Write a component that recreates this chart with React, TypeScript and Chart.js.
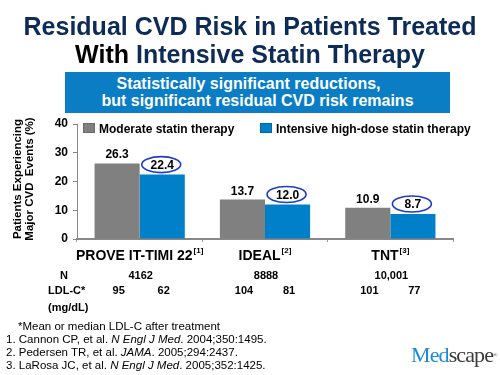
import React, { useEffect, useRef } from "react";
import { Chart, registerables } from "chart.js";

Chart.register(...registerables);

const categories = ["PROVE IT-TIMI 22", "IDEAL", "TNT"];
const refs = ["[1]", "[2]", "[3]"];
const moderate = [26.3, 13.7, 10.9];
const intensive = [22.4, 12.0, 8.7];
const seriesNames = ["Moderate statin therapy", "Intensive high-dose statin therapy"];
const nValues = ["4162", "8888", "10,001"];
const ldlModerate = ["95", "104", "101"];
const ldlIntensive = ["62", "81", "77"];
const yTicks = [0, 10, 20, 30, 40];

const GRAY = "#808080";
const BLUE = "#0080C8";
const FONT = 'Arial, "Liberation Sans", sans-serif';

const overlayPlugin = {
  id: "overlay",
  afterDraw(chart: any) {
    const ctx = chart.ctx as CanvasRenderingContext2D;
    const x = chart.scales.x;
    ctx.save();
    ctx.fillStyle = "#000";
    // data labels
    chart.data.datasets.forEach((ds: any, di: number) => {
      const meta = chart.getDatasetMeta(di);
      meta.data.forEach((bar: any, i: number) => {
        const v = ds.data[i] as number;
        const txt = v.toFixed(1);
        ctx.font = `bold 12px ${FONT}`;
        ctx.textAlign = "center";
        ctx.textBaseline = "alphabetic";
        const ty = bar.y - (di === 1 ? 6 : 5);
        ctx.fillStyle = "#000";
        ctx.fillText(txt, bar.x, ty);
        if (di === 1) {
          ctx.beginPath();
          ctx.ellipse(bar.x - 1, ty - 4, 19.5, 8, 0, 0, Math.PI * 2);
          ctx.strokeStyle = "#1E3DC8";
          ctx.lineWidth = 1.6;
          ctx.stroke();
        }
      });
    });
    // legend
    const legendItems = [
      { color: GRAY, border: "#666", x: 83, text: seriesNames[0] },
      { color: BLUE, border: "#0060A0", x: 260, text: seriesNames[1] },
    ];
    legendItems.forEach((it) => {
      ctx.fillStyle = it.color;
      ctx.fillRect(it.x, 123, 12, 10);
      ctx.strokeStyle = it.border;
      ctx.lineWidth = 0.8;
      ctx.strokeRect(it.x + 0.5, 123.5, 11, 9);
      ctx.fillStyle = "#000";
      ctx.font = `bold 12px ${FONT}`;
      ctx.textAlign = "left";
      ctx.fillText(it.text, it.x + 16, 133);
    });
    // y title
    ctx.save();
    ctx.translate(21, 179);
    ctx.rotate(-Math.PI / 2);
    ctx.font = `bold 11.5px ${FONT}`;
    ctx.textAlign = "center";
    ctx.fillStyle = "#000";
    ctx.fillText("Patients Experiencing", 0, 0);
    ctx.fillText("Major CVD  Events (%)", 0, 12);
    ctx.restore();
    // category labels with superscripts
    categories.forEach((c, i) => {
      const cx = x.getPixelForValue(i);
      ctx.font = `bold 14px ${FONT}`;
      const w1 = ctx.measureText(c).width;
      ctx.font = `bold 8px ${FONT}`;
      const w2 = ctx.measureText(refs[i]).width;
      const start = cx - (w1 + w2 + 1) / 2;
      ctx.textAlign = "left";
      ctx.font = `bold 14px ${FONT}`;
      ctx.fillText(c, start, 260);
      ctx.font = `bold 8px ${FONT}`;
      ctx.fillText(refs[i], start + w1 + 1, 253);
    });
    // table
    ctx.font = `bold 11px ${FONT}`;
    ctx.textAlign = "center";
    ctx.fillText("N", 64, 279);
    ctx.textAlign = "left";
    ctx.fillText("LDL-C*", 48, 294);
    ctx.fillText("(mg/dL)", 48, 311);
    ctx.textAlign = "center";
    categories.forEach((_, i) => {
      const cx = x.getPixelForValue(i);
      ctx.fillText(nValues[i], cx + 1, 279);
      ctx.fillText(ldlModerate[i], cx - 21, 294);
      ctx.fillText(ldlIntensive[i], cx + 24, 294);
    });
    ctx.restore();
  },
};

export default function App() {
  const canvasRef = useRef<HTMLCanvasElement>(null);
  useEffect(() => {
    if (!canvasRef.current) return;
    const chart = new Chart(canvasRef.current, {
      type: "bar",
      data: {
        labels: categories,
        datasets: [
          {
            label: seriesNames[0],
            data: moderate,
            backgroundColor: GRAY,
            categoryPercentage: 0.72,
            barPercentage: 1,
          },
          {
            label: seriesNames[1],
            data: intensive,
            backgroundColor: BLUE,
            categoryPercentage: 0.72,
            barPercentage: 1,
          },
        ],
      },
      options: {
        responsive: false,
        animation: false,
        devicePixelRatio: 1,
        layout: { padding: { left: 0, right: 47, top: 124, bottom: 133 } },
        plugins: { legend: { display: false }, tooltip: { enabled: false }, title: { display: false } },
        scales: {
          x: {
            ticks: { display: false },
            grid: { display: true, drawOnChartArea: false, offset: true, tickLength: 3, color: "#999" },
            border: { color: "#888", width: 2 },
            afterFit: (s: any) => {
              s.height = 3;
            },
          },
          y: {
            min: 0,
            max: 40,
            afterBuildTicks: (s: any) => {
              s.ticks = yTicks.map((v) => ({ value: v }));
            },
            ticks: { font: { family: FONT, size: 12, weight: "bold" }, color: "#000", padding: 5 },
            grid: { drawOnChartArea: false, tickLength: 4, color: "#888" },
            border: { color: "#888", width: 1 },
            afterFit: (s: any) => {
              s.width = 77;
            },
          },
        },
      },
      plugins: [overlayPlugin],
    });
    return () => chart.destroy();
  }, []);

  const navy = "#0D2B57";
  return (
    <div style={{ position: "absolute", left: 0, top: 0, width: 500, height: 375, background: "#fff", fontFamily: FONT, overflow: "hidden" }}>
      <canvas ref={canvasRef} width={500} height={375} style={{ position: "absolute", left: 0, top: 0 }} />
      <div style={{ position: "absolute", left: 0, top: 12, width: 500, textAlign: "center", fontWeight: "bold", fontSize: 25, lineHeight: "28px", color: navy }}>
        Residual CVD Risk in Patients Treated
        <br />
        <span style={{ color: "#000" }}>With</span> Intensive Statin Therapy
      </div>
      <div style={{ position: "absolute", left: 65, top: 72, width: 385, height: 41, background: "#0A7DC5", color: "#fff", fontWeight: "bold", fontSize: 16, lineHeight: "17px", textAlign: "center", paddingTop: 3, boxSizing: "border-box" }}>
        <div style={{ marginLeft: -18 }}>Statistically significant reductions,</div>
        <div>but significant residual CVD risk remains</div>
      </div>
      <div style={{ position: "absolute", left: 6, top: 320, fontSize: 11.5, lineHeight: "13px", color: "#000" }}>
        <div style={{ paddingLeft: 12 }}>*Mean or median LDL-C after treatment</div>
        <div>1. Cannon CP, et al. <i>N Engl J Med</i>. 2004;350:1495.</div>
        <div>2. Pedersen TR, et al. <i>JAMA</i>. 2005;294:2437.</div>
        <div>3. LaRosa JC, et al. <i>N Engl J Med</i>. 2005;352:1425.</div>
      </div>
      <div style={{ position: "absolute", left: 411, top: 343, fontFamily: '"Liberation Serif", "Times New Roman", serif', fontSize: 22, lineHeight: "24px", letterSpacing: -0.9 }}>
        <span style={{ color: "#1B8BD6" }}>Med</span>
        <span style={{ color: "#3A3A3A" }}>scape</span>
        <span style={{ fontSize: 6, color: "#3A3A3A", verticalAlign: "top" }}>®</span>
      </div>
    </div>
  );
}
